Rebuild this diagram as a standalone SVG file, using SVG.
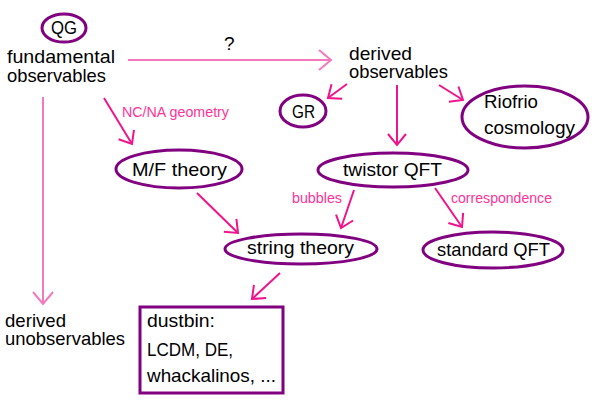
<svg xmlns="http://www.w3.org/2000/svg" width="592" height="400" viewBox="0 0 592 400">
<style>
.t{font-family:"Liberation Sans",Arial,sans-serif;font-size:19px;fill:#000}
.l{font-family:"Liberation Sans",Arial,sans-serif;font-size:14px;fill:#ff3399}
.n{fill:none;stroke:#800080;stroke-width:3}
.a{fill:none;stroke:#f0148c;stroke-width:2;marker-end:url(#mh)}
.p{fill:none;stroke:#f478be;stroke-width:2;marker-end:url(#mp)}
</style>
<defs>
<marker id="mh" markerUnits="userSpaceOnUse" orient="auto" markerWidth="30" markerHeight="30" viewBox="-15 -15 30 30" refX="0" refY="0" overflow="visible"><path d="M-11,-9 L0,0 L-11,9" fill="none" stroke="#f0148c" stroke-width="2"/></marker>
<marker id="mp" markerUnits="userSpaceOnUse" orient="auto" markerWidth="30" markerHeight="30" viewBox="-15 -15 30 30" refX="0" refY="0" overflow="visible"><path d="M-12,-10 L0,0 L-12,10" fill="none" stroke="#f478be" stroke-width="2"/></marker>
</defs>
<rect width="592" height="400" fill="#fff"/>
<g id="connectors">
<line class="p" x1="128" y1="60" x2="331" y2="60"/>
<text class="t" x="224" y="50" font-size="17">?</text>
<line class="p" x1="43" y1="97" x2="43" y2="304"/>
<line class="a" x1="104" y1="98" x2="132" y2="144"/>
<text class="l" x="122" y="117" textLength="107" lengthAdjust="spacingAndGlyphs">NC/NA geometry</text>
<line class="a" x1="347" y1="84" x2="328" y2="98"/>
<line class="a" x1="397" y1="85" x2="397" y2="145"/>
<line class="a" x1="439" y1="85" x2="463" y2="100"/>
<line class="a" x1="197" y1="193" x2="238" y2="233"/>
<line class="a" x1="354" y1="190" x2="341" y2="228"/>
<text class="l" x="292" y="203" textLength="50" lengthAdjust="spacingAndGlyphs">bubbles</text>
<line class="a" x1="435" y1="188" x2="462" y2="227"/>
<text class="l" x="451" y="203" textLength="101" lengthAdjust="spacingAndGlyphs">correspondence</text>
<line class="a" x1="280" y1="273" x2="252" y2="299"/>
</g>
<g id="qg"><ellipse class="n" cx="64" cy="28" rx="22" ry="14"/><text class="t" x="51" y="34" textLength="26" lengthAdjust="spacingAndGlyphs">QG</text></g>
<g id="fundamental"><text class="t" x="7" y="63" textLength="108" lengthAdjust="spacingAndGlyphs">fundamental</text><text class="t" x="7" y="82" textLength="99" lengthAdjust="spacingAndGlyphs">observables</text></g>
<g id="derived-obs"><text class="t" x="349" y="60" textLength="63" lengthAdjust="spacingAndGlyphs">derived</text><text class="t" x="349" y="78" textLength="99" lengthAdjust="spacingAndGlyphs">observables</text></g>
<g id="gr"><ellipse class="n" cx="303" cy="111" rx="23" ry="16"/><text class="t" x="292" y="118" textLength="23" lengthAdjust="spacingAndGlyphs">GR</text></g>
<g id="riofrio"><ellipse class="n" cx="525" cy="117" rx="63" ry="31"/><text class="t" x="484" y="108" textLength="54" lengthAdjust="spacingAndGlyphs">Riofrio</text><text class="t" x="484" y="134" textLength="91" lengthAdjust="spacingAndGlyphs">cosmology</text></g>
<g id="mf"><ellipse class="n" cx="179" cy="169" rx="63" ry="19"/><text class="t" x="132" y="176" textLength="95" lengthAdjust="spacingAndGlyphs">M/F theory</text></g>
<g id="twistor"><ellipse class="n" cx="393" cy="170" rx="75" ry="17"/><text class="t" x="343" y="176" textLength="99" lengthAdjust="spacingAndGlyphs">twistor QFT</text></g>
<g id="string"><ellipse class="n" cx="301" cy="249" rx="76" ry="15"/><text class="t" x="247" y="254" textLength="107" lengthAdjust="spacingAndGlyphs">string theory</text></g>
<g id="standard"><ellipse class="n" cx="493" cy="250" rx="70" ry="18"/><text class="t" x="437" y="256" textLength="113" lengthAdjust="spacingAndGlyphs">standard QFT</text></g>
<g id="unobs"><text class="t" x="5" y="327" textLength="61" lengthAdjust="spacingAndGlyphs">derived</text><text class="t" x="5" y="345" textLength="120" lengthAdjust="spacingAndGlyphs">unobservables</text></g>
<g id="dustbin"><rect x="140" y="307" width="143" height="86" fill="none" stroke="#800080" stroke-width="3"/><text class="t" x="147" y="327" textLength="68" lengthAdjust="spacingAndGlyphs">dustbin:</text><text class="t" x="147" y="356" textLength="86" lengthAdjust="spacingAndGlyphs">LCDM, DE,</text><text class="t" x="147" y="382" textLength="129" lengthAdjust="spacingAndGlyphs">whackalinos, ...</text></g>
</svg>
